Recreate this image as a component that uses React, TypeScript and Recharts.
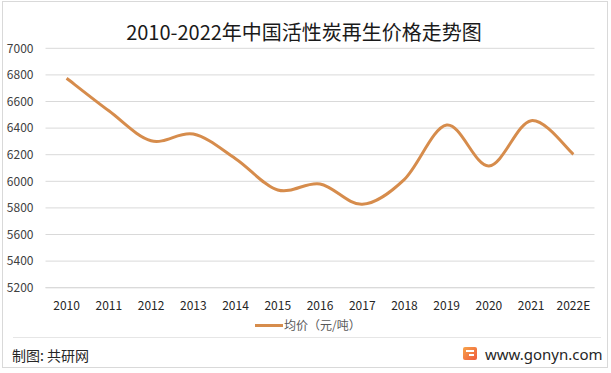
import { LineChart, Line, XAxis, YAxis, CartesianGrid } from 'recharts'

const years = ['2010', '2011', '2012', '2013', '2014', '2015', '2016', '2017', '2018', '2019', '2020', '2021', '2022E']
const prices = [6775, 6530, 6305, 6355, 6170, 5935, 5980, 5827, 6015, 6423, 6115, 6456, 6203]
const yTicks = [5200, 5400, 5600, 5800, 6000, 6200, 6400, 6600, 6800, 7000]

const seriesName = '均价（元/吨）'
const lineColor = '#D68C4C'
const fontStack = '"Microsoft YaHei", "Noto Sans CJK SC", "Noto Sans", sans-serif'

const data = years.map((year, i) => ({ year, price: prices[i] }))

// Excel-style smoothed line (Catmull-Rom as cubic bezier)
const excelSmooth = (context: any) => {
  let pts: number[][] = []
  return {
    areaStart() {},
    areaEnd() {},
    lineStart() {
      pts = []
    },
    point(x: number, y: number) {
      pts.push([+x, +y])
    },
    lineEnd() {
      const n = pts.length
      if (!n) return
      context.moveTo(pts[0][0], pts[0][1])
      for (let i = 0; i < n - 1; i++) {
        const p0 = pts[Math.max(i - 1, 0)]
        const p1 = pts[i]
        const p2 = pts[i + 1]
        const p3 = pts[Math.min(i + 2, n - 1)]
        context.bezierCurveTo(
          p1[0] + (p2[0] - p0[0]) / 6,
          p1[1] + (p2[1] - p0[1]) / 6,
          p2[0] - (p3[0] - p1[0]) / 6,
          p2[1] - (p3[1] - p1[1]) / 6,
          p2[0],
          p2[1]
        )
      }
    },
  }
}

export default function App() {
  return (
    <div
      style={{
        position: 'absolute',
        left: 0,
        top: 0,
        width: 611,
        height: 373,
        background: '#fff',
        fontFamily: fontStack,
        overflow: 'hidden',
      }}
    >
      <div
        style={{
          position: 'absolute',
          left: 2,
          top: 1,
          width: 604,
          height: 365,
          border: '1px solid #d9d9d9',
        }}
      />
      <div
        style={{
          position: 'absolute',
          left: 0,
          top: 19,
          width: 608,
          textAlign: 'center',
          fontSize: 20,
          lineHeight: '25px',
          color: '#1a1a1a',
        }}
      >
        2010-2022年中国活性炭再生价格走势图
      </div>
      <div style={{ position: 'absolute', left: 0, top: 0 }}>
        <LineChart
          width={611}
          height={340}
          data={data}
          margin={{ top: 48.3, right: 16.5, left: 0, bottom: 22.3 }}
        >
          <CartesianGrid vertical={false} stroke="#d9d9d9" strokeWidth={1} />
          <XAxis
            dataKey="year"
            scale="band"
            height={30}
            tickLine={false}
            tickSize={0}
            tickMargin={14}
            axisLine={{ stroke: '#d9d9d9' }}
            tick={{ fontSize: 12, fill: '#262626', fontFamily: fontStack }}
            interval={0}
          />
          <YAxis
            width={45.5}
            domain={[5200, 7000]}
            ticks={yTicks}
            axisLine={false}
            tickLine={false}
            tickSize={0}
            tickMargin={12}
            tick={{ fontSize: 12, fill: '#404040', fontFamily: fontStack }}
          />
          <Line
            dataKey="price"
            name={seriesName}
            type={excelSmooth as any}
            stroke={lineColor}
            strokeWidth={3}
            dot={false}
            activeDot={false}
            isAnimationActive={false}
          />
        </LineChart>
      </div>
      <div
        style={{
          position: 'absolute',
          left: 255,
          top: 323.5,
          width: 28,
          height: 3,
          background: lineColor,
        }}
      />
      <div
        style={{
          position: 'absolute',
          left: 284,
          top: 317,
          fontSize: 12,
          lineHeight: '16px',
          color: '#595959',
          whiteSpace: 'nowrap',
        }}
      >
        {seriesName}
      </div>
      <div
        style={{
          position: 'absolute',
          left: 13,
          top: 337,
          width: 588,
          height: 1,
          background: '#e6e6e6',
        }}
      />
      <div
        style={{
          position: 'absolute',
          left: 12,
          top: 346,
          fontSize: 14,
          lineHeight: '18px',
          color: '#262626',
          whiteSpace: 'nowrap',
        }}
      >
        制图: 共研网
      </div>
      <div
        style={{
          position: 'absolute',
          left: 463,
          top: 347,
          width: 14,
          height: 13,
          borderRadius: 2,
          background: 'linear-gradient(135deg, #f7a44a, #ef5a3c)',
        }}
      >
        <div
          style={{
            position: 'absolute',
            left: 3,
            top: 3,
            width: 8,
            height: 2,
            background: '#fff',
          }}
        />
        <div
          style={{
            position: 'absolute',
            left: 6,
            top: 7,
            width: 5,
            height: 2,
            background: '#fff',
          }}
        />
      </div>
      <div
        style={{
          position: 'absolute',
          left: 485,
          top: 344,
          fontSize: 15,
          lineHeight: '20px',
          color: '#262626',
          fontFamily: '"Noto Sans", "Open Sans", sans-serif',
          whiteSpace: 'nowrap',
        }}
      >
        www.gonyn.com
      </div>
    </div>
  )
}
